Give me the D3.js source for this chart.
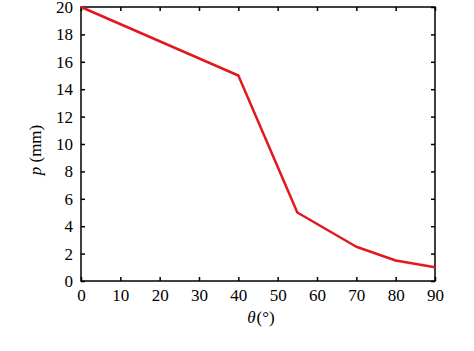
<!DOCTYPE html>
<html><head><meta charset="utf-8">
<script src="https://cdn.jsdelivr.net/npm/d3@7"></script>
<style>body{margin:0;background:#fff}svg{display:block}</style>
</head><body>
<script>
const theta = [0, 40, 55, 70, 80, 90];
const pitch = [20, 15, 5, 2.5, 1.5, 1];
const xTicks = [0,10,20,30,40,50,60,70,80,90];
const yTicks = [0,2,4,6,8,10,12,14,16,18,20];

const W = 474, H = 351;
const m = {l: 81, r: 39, t: 7, b: 70};
const svg = d3.select("body").append("svg").attr("width", W).attr("height", H);
const x = d3.scaleLinear().domain([0, 90]).range([m.l, W - m.r]);
const y = d3.scaleLinear().domain([0, 20]).range([H - m.b, m.t]);
const font = "'Liberation Serif', 'Times New Roman', serif";

const g = svg.append("g");
g.append("rect").attr("x", x(0)).attr("y", y(20)).attr("width", x(90) - x(0)).attr("height", y(0) - y(20))
  .attr("fill", "none").attr("stroke", "#000").attr("stroke-width", 1.5);

const tl = 4;
const xb = d3.axisBottom(x).tickValues(xTicks).tickSizeInner(-tl).tickSizeOuter(0).tickPadding(8);
const xt = d3.axisTop(x).tickValues(xTicks).tickSizeInner(-tl).tickSizeOuter(0).tickFormat("");
const yl = d3.axisLeft(y).tickValues(yTicks).tickSizeInner(-tl).tickSizeOuter(0).tickPadding(8);
const yr = d3.axisRight(y).tickValues(yTicks).tickSizeInner(-tl).tickSizeOuter(0).tickFormat("");

function style(sel){
  sel.select(".domain").remove();
  sel.selectAll("line").attr("stroke", "#000").attr("stroke-width", 1.5);
  sel.selectAll("text").attr("font-family", font).attr("font-size", 17).attr("fill", "#000");
}
g.append("g").attr("transform", `translate(0,${y(0)})`).call(xb).call(style);
g.append("g").attr("transform", `translate(0,${y(20)})`).call(xt).call(style);
g.append("g").attr("transform", `translate(${x(0)},0)`).call(yl).call(style);
g.append("g").attr("transform", `translate(${x(90)},0)`).call(yr).call(style);

const data = theta.map((t, i) => [t, pitch[i]]);
g.append("path").datum(data)
  .attr("d", d3.line().x(d => x(d[0])).y(d => y(d[1])))
  .attr("fill", "none").attr("stroke", "#e0191e").attr("stroke-width", 2.5).attr("stroke-linejoin", "round");

const xl = svg.append("text").attr("x", 261).attr("y", 323).attr("text-anchor", "middle")
  .attr("font-family", font).attr("font-size", 17);
xl.append("tspan").attr("font-style", "italic").text("θ");
xl.append("tspan").attr("dx", 1).text("(°)");

const ylab = svg.append("text").attr("transform", `translate(41,150) rotate(-90)`)
  .attr("text-anchor", "middle").attr("font-family", font).attr("font-size", 17);
ylab.append("tspan").attr("font-style", "italic").text("p");
ylab.append("tspan").text(" (mm)");
</script>
</body></html>
